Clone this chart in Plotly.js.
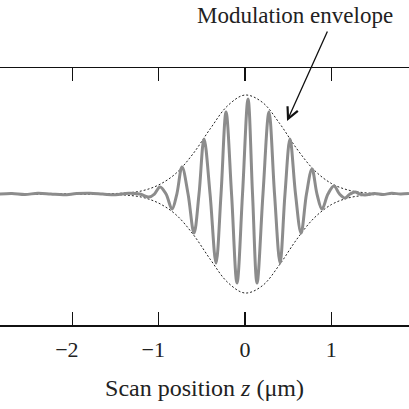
<!DOCTYPE html>
<html>
<head>
<meta charset="utf-8">
<script src="https://cdn.plot.ly/plotly-3.0.1.min.js"></script>
<style>html,body{margin:0;padding:0;background:#fff;}#chart{width:409px;height:409px;}</style>
</head>
<body>
<div id="chart"></div>
<script>
// Scan position (µm) and normalized interference signal
const scanZ = [-2.84, -2.7, -2.55, -2.4, -2.25, -2.1, -1.95, -1.8, -1.65, -1.5, -1.35, -1.22,
  -1.112, -1.05, -0.985, -0.915, -0.846, -0.79, -0.730, -0.66, -0.591, -0.533, -0.475, -0.405,
  -0.336, -0.278, -0.220, -0.156, -0.093, -0.029, 0.035, 0.087, 0.139, 0.208, 0.278, 0.342,
  0.406, 0.463, 0.521, 0.585, 0.649, 0.712, 0.776, 0.834, 0.892, 0.961, 1.031, 1.095, 1.159,
  1.217, 1.275, 1.33, 1.39, 1.5, 1.6, 1.7, 1.8, 1.9];
const signal = [0.0, 0.005, -0.005, 0.008, 0.0, -0.008, 0.005, 0.008, 0.0, -0.008, 0.008, 0.0,
  -0.030, 0.0, 0.071, 0.0, -0.152, 0.0, 0.273, 0.0, -0.394, 0.0, 0.556, 0.0,
  -0.697, 0.0, 0.828, 0.0, -0.899, 0.0, 0.960, 0.0, -0.899, 0.0, 0.828, 0.0,
  -0.697, 0.0, 0.556, 0.0, -0.394, 0.0, 0.253, 0.0, -0.152, 0.0, 0.081, 0.0, -0.040,
  0.0, 0.020, 0.0, -0.010, 0.005, -0.005, 0.008, 0.0, 0.005];

// Modulation envelope (upper and lower)
const envZ = [-2.84, -1.8, -1.6, -1.4, -1.2, -1.0, -0.8, -0.6, -0.4, -0.2, 0.0, 0.2, 0.4, 0.6, 0.8, 1.0, 1.2, 1.4, 1.6, 1.9];
const envUpper = [0.0, 0.001, 0.003, 0.010, 0.031, 0.092, 0.209, 0.409, 0.663, 0.893, 1.0, 0.927, 0.714, 0.457, 0.243, 0.107, 0.039, 0.012, 0.004, 0.0];
const envLower = [0.0, -0.001, -0.003, -0.010, -0.031, -0.092, -0.209, -0.409, -0.663, -0.893, -1.0, -0.927, -0.714, -0.457, -0.243, -0.107, -0.039, -0.012, -0.004, 0.0];

const tickVals = [-2, -1, 0, 1];
const tickText = ['\u22122\u2002', '\u22121\u2002', '0', '1'];
const annotationText = 'Modulation envelope';
const axisTitle = 'Scan position <i>z</i> (\u03bcm)';

const serif = 'Liberation Serif, DejaVu Serif, serif';

const traces = [
  {x: envZ, y: envUpper, mode: 'lines', line: {color: '#222', width: 1, dash: '2px,2px', shape: 'spline'}, hoverinfo: 'skip'},
  {x: envZ, y: envLower, mode: 'lines', line: {color: '#222', width: 1, dash: '2px,2px', shape: 'spline'}, hoverinfo: 'skip'},
  {x: scanZ, y: signal, mode: 'lines', line: {color: '#8c8c8c', width: 3, shape: 'spline', smoothing: 1}, hoverinfo: 'skip'}
];

const layout = {
  width: 409, height: 409,
  margin: {l: 0, r: 0, t: 68, b: 84, pad: 0},
  paper_bgcolor: '#fff', plot_bgcolor: '#fff',
  showlegend: false,
  font: {family: serif, color: '#222'},
  xaxis: {
    range: [-2.839, 1.9],
    tickvals: tickVals, ticktext: tickText,
    ticks: 'inside', ticklen: 13, tickwidth: 1.3, tickcolor: '#111',
    showline: true, linewidth: 1.5, linecolor: '#111', mirror: 'ticks',
    showgrid: false, zeroline: false,
    ticklabelstandoff: 4,
    tickfont: {family: serif, size: 22, color: '#222'},
    title: {text: axisTitle, font: {family: serif, size: 24, color: '#222'}, standoff: 18}
  },
  yaxis: {visible: false, range: [-1.323, 1.273], showgrid: false, zeroline: false},
  annotations: [
    {xref: 'paper', yref: 'paper', x: 196/409, y: 1.206, xanchor: 'left', yanchor: 'middle',
     text: annotationText, showarrow: false, borderpad: 0, font: {family: serif, size: 23, color: '#222'}},
    {xref: 'x', yref: 'y', x: 0.487, y: 0.737, ax: 41, ay: -91, text: '', showarrow: true,
     arrowhead: 5, arrowsize: 1.7, arrowwidth: 1.3, arrowcolor: '#111', standoff: 0}
  ]
};

Plotly.newPlot('chart', traces, layout, {staticPlot: true, displayModeBar: false});
</script>
</body>
</html>
